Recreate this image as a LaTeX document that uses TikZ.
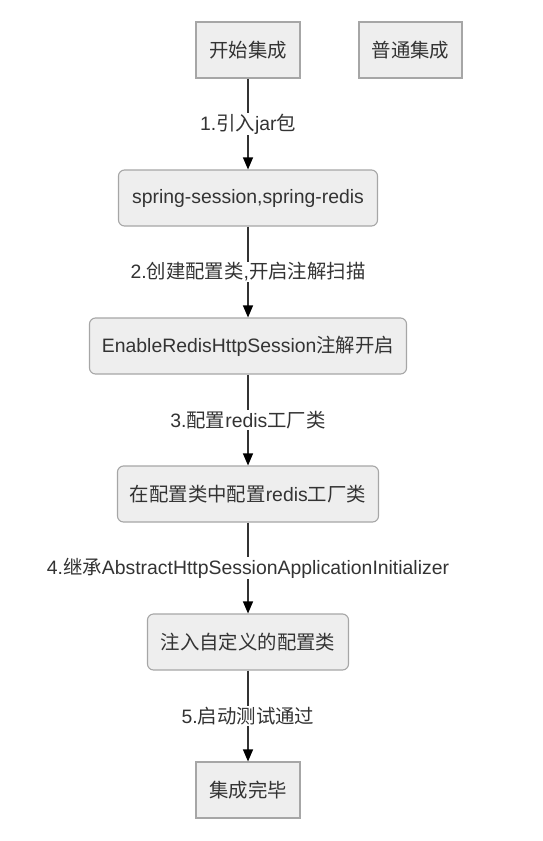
\documentclass[tikz,border=0pt]{standalone}
\usepackage{fontspec}
\setmainfont{Liberation Sans}
\newfontfamily\cjk{Noto Sans CJK SC}
\usetikzlibrary{arrows.meta}
\definecolor{boxfill}{HTML}{EEEEEE}
\definecolor{boxline}{HTML}{A6A6A6}
\definecolor{txt}{HTML}{333333}
\tikzset{
  box/.style={draw=boxline, fill=boxfill, line width=1.1pt, text=txt,
    minimum height=56pt, inner sep=0pt, font=\fontsize{19.4}{23}\selectfont},
  roundbox/.style={box, rounded corners=6pt},
  flow/.style={draw=txt, line width=1.2pt, -{Triangle[width=10pt,length=12pt,fill=black,color=black]}},
  steplabel/.style={fill=white, text=txt, inner sep=1pt, font=\fontsize{19.4}{23}\selectfont},
}
\begin{document}
\begin{tikzpicture}[x=1pt, y=-1pt]
    \useasboundingbox (0,0) rectangle (542,841);
    % Knoten
    \node[box, minimum width=104pt] (start) at (248,50) {\cjk 开始集成};
    \node[box, minimum width=103pt] (normal) at (410.5,50) {\cjk 普通集成};
    \node[roundbox, minimum width=259pt] (jar) at (248,198) {spring-session,spring-redis};
    \node[roundbox, minimum width=317pt] (enable) at (248,346) {EnableRedisHttpSession{\cjk 注解开启}};
    \node[roundbox, minimum width=261pt] (factory) at (248,494) {{\cjk 在配置类中配置}redis{\cjk 工厂类}};
    \node[roundbox, minimum width=201pt] (inject) at (248,642) {\cjk 注入自定义的配置类};
    \node[box, minimum width=104pt] (done) at (248,790) {\cjk 集成完毕};
    % Pfeile
    \draw[flow] (start) -- node[steplabel] {1.{\cjk 引入}jar{\cjk 包}} (jar);
    \draw[flow] (jar) -- node[steplabel] {2.{\cjk 创建配置类}{,}{\cjk 开启注解扫描}} (enable);
    \draw[flow] (enable) -- node[steplabel] {3.{\cjk 配置}redis{\cjk 工厂类}} (factory);
    \draw[flow] (factory) -- node[steplabel] {4.{\cjk 继承}AbstractHttpSessionApplicationInitializer} (inject);
    \draw[flow] (inject) -- node[steplabel] {5.{\cjk 启动测试通过}} (done);
\end{tikzpicture}
\end{document}
